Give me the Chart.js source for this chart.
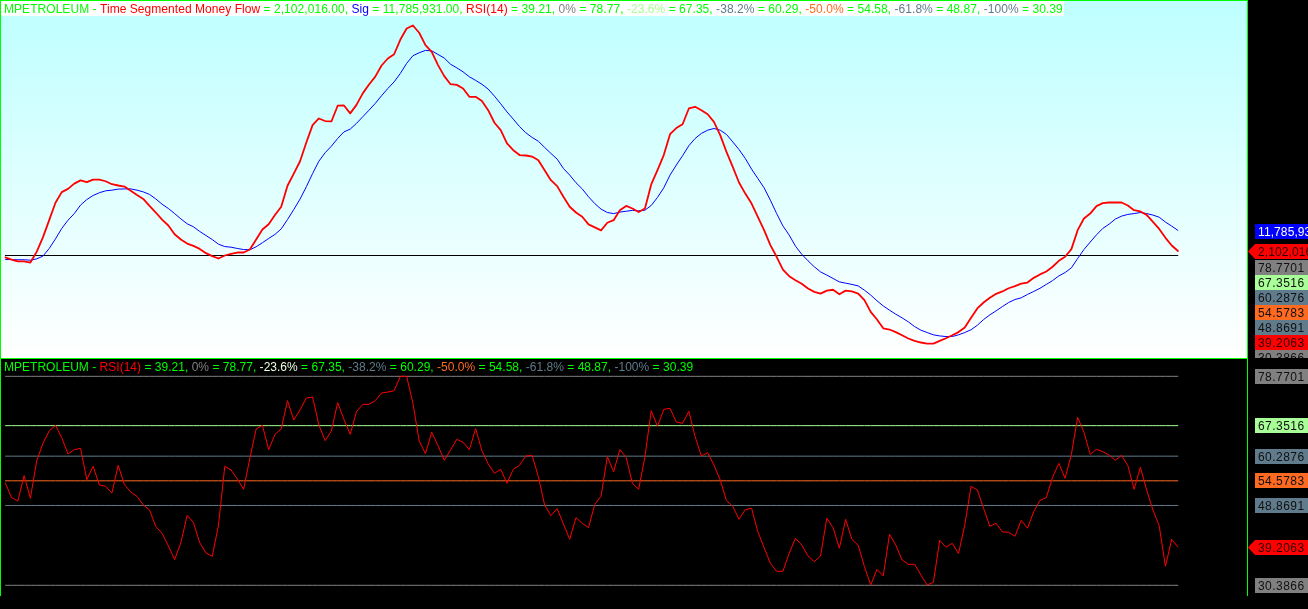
<!DOCTYPE html>
<html><head><meta charset="utf-8">
<script src="https://cdn.jsdelivr.net/npm/chart.js@4/dist/chart.umd.min.js"></script>
<style>html,body{margin:0;padding:0;background:#000;overflow:hidden;width:1308px;height:609px}
canvas{position:absolute;left:0;display:block}</style></head>
<body><canvas id="top" width="1308" height="358" style="top:0"></canvas><canvas id="bot" width="1308" height="251" style="top:358px"></canvas>
<script>
// Time Segmented Money Flow, in millions
const tsmf=[-0.9,-1.9,-2.8,-2.8,-3.3,1.7,8.5,16.6,24.8,29.8,31.3,33.8,35.3,34.5,35.7,35.7,34.9,33.5,32.9,32.4,30.4,28.4,26.6,23.3,20.2,16.9,14.1,10.0,7.5,5.6,4.5,3.1,1.1,-0.3,-1.4,0,0.8,1.4,1.4,2.8,7.5,12.2,14.7,19.0,22.9,32.8,38.5,44.3,53.1,61.3,64.4,63.2,63.0,70.4,70.5,66.8,70.8,76.2,80.4,84.1,89.3,92.6,94.6,101.5,106.7,108.1,104.7,98.9,95.7,89.5,84.3,80.5,80.2,78.5,74.6,74.6,72.6,68.3,62.4,58.9,52.7,49.5,47.2,47.0,46.5,44.8,40.1,35.4,32.6,27.6,22.9,20.2,18.2,14.6,13.2,11.8,15.4,16.6,21.3,23.3,22.1,20.4,22.1,33.4,40.1,47.2,57.0,59.9,61.7,69.1,69.9,68.3,66.4,62.8,56.6,48.7,41.7,34.3,29.1,24.4,18.2,11.9,4.9,-0.6,-6.6,-9.7,-11.6,-13.3,-15.5,-17.1,-17.9,-16.5,-16.1,-18.2,-16.5,-16.9,-17.9,-21.0,-26.5,-30.1,-34.2,-34.8,-36.0,-37.5,-39.0,-40.1,-40.9,-41.4,-41.4,-40.1,-38.9,-37.5,-36.0,-33.8,-29.3,-24.9,-22.1,-19.9,-18.0,-16.9,-15.4,-14.4,-13.2,-12.7,-10.5,-8.9,-7.5,-5.3,-2.5,-0.6,3.0,11.9,17.4,19.7,23.2,24.6,24.9,24.9,24.9,23.5,21.3,20.7,19.1,15.8,12.5,8.3,4.7,2.102];
const sig=[-1.9,-1.9,-2.0,-2.0,-2.2,-1.6,-0.3,3.3,7.8,12.7,16.6,19.7,23.7,26.3,28.2,29.5,30.4,30.7,31.2,31.3,31.3,30.7,29.9,28.7,26.6,24.1,22.1,19.7,17.2,14.9,13.5,11.3,9.4,7.5,5.3,4.2,3.9,3.3,2.8,2.7,4.1,6.0,8.0,9.9,12.5,16.9,21.6,26.5,32.3,38.5,44.3,48.3,51.4,55.0,58.1,59.4,62.1,65.2,68.3,71.5,75.1,78.5,81.6,85.6,90.3,93.9,95.3,96.4,96.2,94.5,92.8,89.9,88.2,86.3,84.0,82.3,80.5,78.2,74.9,71.3,67.5,64.1,60.6,57.7,55.5,53.7,50.8,48.0,45.3,40.9,37.8,34.2,31.3,27.6,24.4,21.8,20.2,19.7,20.4,20.8,21.2,21.0,21.3,23.5,27.3,31.8,37.8,42.5,46.9,51.6,55.0,57.4,58.9,59.7,58.9,56.9,53.4,49.8,45.6,40.6,36.2,31.8,26.0,19.7,13.9,9.6,4.4,0.6,-2.5,-5.3,-7.7,-9.2,-10.8,-12.4,-13.0,-13.6,-14.3,-16.3,-18.6,-21.3,-23.7,-25.7,-27.6,-29.3,-31.2,-33.4,-35.1,-36.2,-37.3,-37.8,-38.1,-38.1,-37.3,-36.2,-34.9,-32.8,-30.1,-27.9,-26.0,-24.0,-22.1,-20.7,-19.9,-18.3,-16.9,-15.4,-13.6,-11.8,-9.6,-8.0,-5.8,-1.4,2.8,6.3,9.7,12.7,14.7,17.1,18.5,19.3,19.7,20.2,19.7,19.0,18.0,15.7,13.8,11.786];
const rsi=[54.08,50.68,49.91,55.78,50.53,59.17,63.26,66.12,67.43,64.57,60.79,61.79,62.10,54.85,57.94,53.62,53.31,51.76,58.17,53.69,52.0,50.99,48.99,47.83,43.97,42.43,39.5,36.33,40.27,46.59,44.9,40.27,37.88,37.1,44.36,57.94,57.09,55.0,52.61,59.79,66.58,67.43,61.79,65.34,66.58,73.14,68.66,70.98,73.75,73.99,67.5,63.88,66.12,72.67,68.82,65.34,70.59,72.29,72.29,73.14,74.91,75.14,75.45,78.77,78.77,72.52,63.8,60.87,65.81,62.72,59.33,61.72,64.19,63.49,61.79,66.66,61.56,58.48,56.32,57.24,54.0,57.24,58.17,60.33,60.48,55.54,48.99,46.52,48.14,44.59,41.04,46.05,44.74,43.74,49.14,50.99,60.17,56.7,61.79,60.02,54.0,52.61,60.17,70.82,67.2,71.13,71.36,68.2,67.89,70.67,64.8,60.33,61.1,58.25,54.77,49.99,48.68,45.67,47.91,48.22,42.81,39.11,35.48,33.63,33.63,37.8,41.27,39.73,37.18,35.87,37.18,45.9,43.74,38.96,45.67,41.04,39.65,34.71,30.47,34.09,32.55,42.2,39.73,36.25,35.25,35.25,32.78,30.47,31.08,40.81,39.19,40.11,37.72,44.36,53.31,52.46,48.22,44.05,44.74,42.74,42.66,41.73,45.44,43.59,47.44,50.07,50.68,55.39,58.63,55.16,60.71,69.28,65.81,60.71,61.87,61.33,60.56,59.33,60.48,58.09,52.61,57.71,52.46,47.83,44.2,34.79,41.04,39.21];
const levels=[78.7701,67.3516,60.2876,54.5783,48.8691,30.3866];
const levelLabels=['78.7701','67.3516','60.2876','54.5783','48.8691','30.3866'];
const levelColors=['#808080','#A8FF98','#607B8B','#FF6A20','#607B8B','#808080'];
const sigLabel='11,785,931.00', tsmfLabel='2,102,016.00', rsiLabel='39.2063';
const SIGV=11.786, TSMFV=2.102, RSIV=39.2063;
const G='#00FF00';
const topLegend=[['MPETROLEUM',G],[' - ',G],['Time Segmented Money Flow','#FF0000'],[' = 2,102,016.00, ',G],['Sig','#0000FF'],[' = 11,785,931.00, ',G],['RSI(14)','#FF0000'],[' = 39.21, ',G],['0%','#808080'],[' = 78.77, ',G],['-23.6%','#A8FF98'],[' = 67.35, ',G],['-38.2%','#607B8B'],[' = 60.29, ',G],['-50.0%','#FF6A20'],[' = 54.58, ',G],['-61.8%','#607B8B'],[' = 48.87, ',G],['-100%','#607B8B'],[' = 30.39',G]];
const botLegend=[['MPETROLEUM',G],[' - ',G],['RSI(14)','#FF0000'],[' = 39.21, ',G],['0%','#808080'],[' = 78.77, ',G],['-23.6%','#E8FFE0'],[' = 67.35, ',G],['-38.2%','#607B8B'],[' = 60.29, ',G],['-50.0%','#FF6A20'],[' = 54.58, ',G],['-61.8%','#607B8B'],[' = 48.87, ',G],['-100%','#607B8B'],[' = 30.39',G]];
const labels=rsi.map((_,i)=>i);
const FONT='12px "Liberation Sans", Arial, sans-serif';

function legendDraw(ctx,items,x,y,sp){
  ctx.font=FONT;ctx.letterSpacing=sp+'px';ctx.textBaseline='alphabetic';ctx.textAlign='left';
  for(const [t,c] of items){ctx.fillStyle=c;ctx.fillText(t,x,y);x+=ctx.measureText(t).width;}
  ctx.letterSpacing='0px';
  return x;
}
function tag(ctx,cy,text,bg,fg,arrow){
  const h=15,x0=1255,y0=Math.round(cy-h/2);
  ctx.fillStyle=bg;
  ctx.fillRect(x0,y0,53,h);
  if(arrow){ctx.beginPath();ctx.moveTo(x0,y0);ctx.lineTo(1248,y0+h/2);ctx.lineTo(x0,y0+h);ctx.closePath();ctx.fill();}
  ctx.fillStyle=fg;ctx.font=FONT;ctx.letterSpacing=(text.includes(',')?'0.1px':'0.45px');ctx.textAlign='left';ctx.textBaseline='alphabetic';
  ctx.save();ctx.beginPath();ctx.rect(x0,y0,53,h);ctx.clip();
  ctx.fillText(text,x0+3,y0+12);ctx.restore();
  ctx.letterSpacing='0px';
}
const common={responsive:false,animation:false,events:[],
  plugins:{legend:{display:false},tooltip:{enabled:false},title:{display:false}},
  elements:{point:{radius:0},line:{tension:0,borderCapStyle:'round',borderJoinStyle:'round'}}};

new Chart(document.getElementById('top'),{type:'line',
  data:{labels,datasets:[
    {label:'Sig',data:sig,borderColor:'#0000FF',borderWidth:1,order:2},
    {label:'Time Segmented Money Flow',data:tsmf,borderColor:'#FF0000',borderWidth:1.8,order:1},
    {label:'Zero',data:labels.map(()=>0),borderColor:'#000000',borderWidth:1.1,order:3}
  ]},
  options:{...common,
    layout:{padding:{left:5.3,right:130,top:0,bottom:0}},
    scales:{x:{display:false,type:'category'},y:{display:false,min:-48.18,max:120.09}}},
  plugins:[{id:'paneTop',
    beforeDraw(c){const x=c.ctx;
      x.save();x.fillStyle='#000';x.fillRect(0,0,1308,358);
      const g=x.createLinearGradient(0,15,0,357);g.addColorStop(0,'#C0FFFF');g.addColorStop(1,'#FFFFFF');
      x.fillStyle=g;x.fillRect(0,0,1247,358);x.restore();},
    afterDraw(c){const x=c.ctx,ys=c.scales.y;
      x.save();
      x.font=FONT;x.letterSpacing='0.05px';
      let w=0;for(const [t] of topLegend)w+=x.measureText(t).width;
      x.letterSpacing='0px';
      x.fillStyle='#FFFFFF';x.fillRect(1,1,w+4,15);
      legendDraw(x,topLegend,4,13,0.05);
      x.fillStyle='#00FF00';
      x.fillRect(0,0,1248,1);x.fillRect(0,0,1,358);x.fillRect(1247,0,1,358);
      tag(x,ys.getPixelForValue(SIGV)+1,sigLabel,'#0000FF','#FFFFFF',false);
      tag(x,ys.getPixelForValue(TSMFV)+0.5,tsmfLabel,'#FF0000','#300000',true);
      const seq=levelLabels.slice(0,5).map((t,i)=>[t,levelColors[i]]);
      seq.push([rsiLabel,'#FF0000']);seq.push([levelLabels[5],levelColors[5]]);
      seq.forEach(([t,col],i)=>tag(x,267+15*i,t,col,col==='#FF0000'?'#300000':'#101010',false));
      x.restore();}
  }]});

new Chart(document.getElementById('bot'),{type:'line',
  data:{labels,datasets:[
    ...levels.map((v,i)=>({label:levelLabels[i],data:labels.map(()=>v),borderColor:levelColors[i],borderWidth:1,order:2})),
    {label:'RSI(14)',data:rsi,borderColor:'#FF0000',borderWidth:1,order:1}
  ]},
  options:{...common,
    layout:{padding:{left:5.3,right:130,top:0,bottom:0}},
    scales:{x:{display:false,type:'category'},y:{display:false,min:24.9,max:83.016}}},
  plugins:[{id:'paneBot',
    beforeDraw(c){c.ctx.fillStyle='#000';c.ctx.fillRect(0,0,1308,251);},
    afterDraw(c){const x=c.ctx,ys=c.scales.y;
      x.save();
      legendDraw(x,botLegend,4,13,0.02);
      x.fillStyle='#00FF00';
      x.fillRect(0,0,1248,1);x.fillRect(0,0,1,238);x.fillRect(1247,0,1,238);
      levels.forEach((v,i)=>tag(x,ys.getPixelForValue(v),levelLabels[i],levelColors[i],'#101010',false));
      tag(x,ys.getPixelForValue(RSIV),rsiLabel,'#FF0000','#300000',true);
      x.restore();}
  }]});
</script></body></html>
